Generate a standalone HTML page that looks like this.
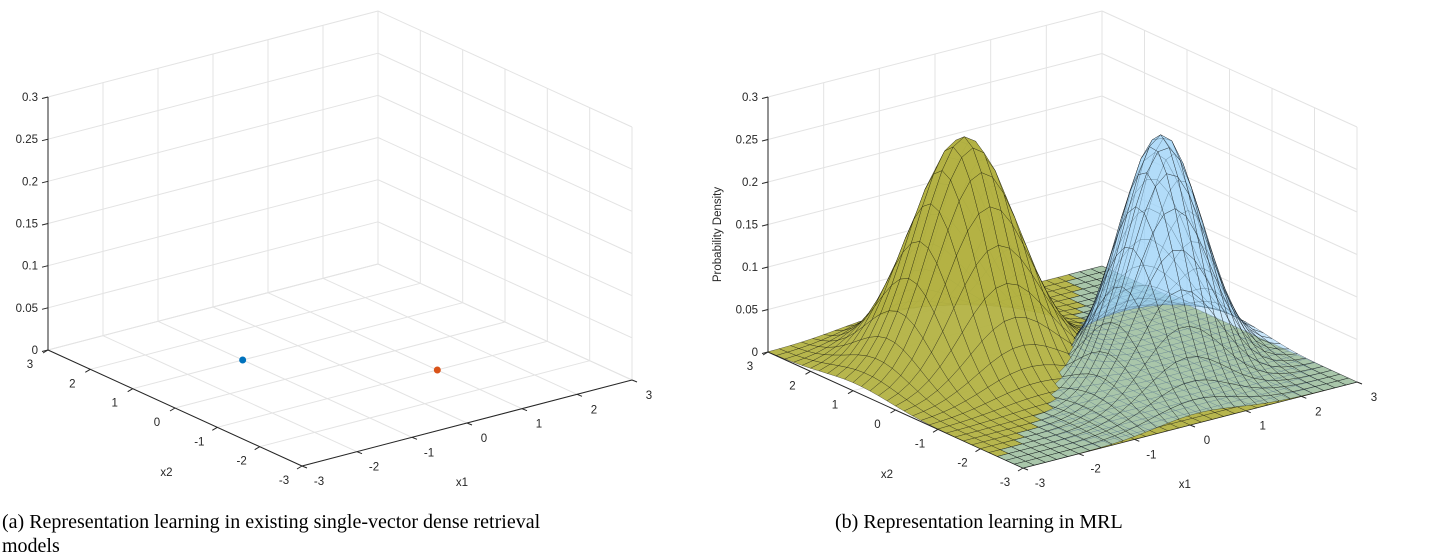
<!DOCTYPE html>
<html><head><meta charset="utf-8"><style>
body{margin:0;background:#fff;}
svg{display:block;}
.t{font-family:"Liberation Sans",Arial,sans-serif;font-size:11.5px;fill:#262626;}
.cap{font-family:"Liberation Serif",serif;font-size:20px;fill:#000;}
</style></head><body>
<svg id="fig" width="1431" height="558" viewBox="0 0 1431 558" xmlns="http://www.w3.org/2000/svg">
<g id="pa"></g>
<g id="pb"></g>
<text class="cap" x="2" y="528">(a)  Representation learning in existing single-vector dense retrieval</text>
<text class="cap" x="2" y="552">models</text>
<text class="cap" x="835" y="528">(b)  Representation learning in MRL</text>
</svg>
<script>
// data
const axTicks=[-3,-2,-1,0,1,2,3];
const zTicks=[0,0.05,0.1,0.15,0.2,0.25,0.3];
const zTickLabels=['0','0.05','0.1','0.15','0.2','0.25','0.3'];
const pointX1=[-1,1];
const pointX2=[1,-1];
const pointColors=['#0072bd','#d95319'];
const gaussMeanX1=[-1,1];
const gaussMeanX2=[1,-1];
const gaussSigmaU=[0.76,0.6];
const gaussSigmaV=[0.79,0.95];
const gaussColor=['#b3b243','#9fd3f8'];
const gaussAlpha=[0.95,0.55];

const NS='http://www.w3.org/2000/svg';
function mk(tag,attrs,parent){const e=document.createElementNS(NS,tag);for(const k in attrs)e.setAttribute(k,attrs[k]);parent.appendChild(e);return e;}

function makeAxes(g,F,L,R,zpx,showZLabel){
  const P=(x1,x2,z)=>[F[0]+(x1+3)/6*(R[0]-F[0])+(x2+3)/6*(L[0]-F[0]), F[1]+(x1+3)/6*(R[1]-F[1])+(x2+3)/6*(L[1]-F[1])-z/0.3*zpx];
  const grid='#e3e3e3';
  const ln=(a,b,c,w,name)=>{const e=mk('line',{x1:a[0].toFixed(1),y1:a[1].toFixed(1),x2:b[0].toFixed(1),y2:b[1].toFixed(1),stroke:c,'stroke-width':w},g);
    
    };
  axTicks.forEach(t=>{ln(P(t,-3,0),P(t,3,0),grid,1,'floor-grid-x1');ln(P(-3,t,0),P(3,t,0),grid,1,'floor-grid-x2');});
  axTicks.forEach(t=>{ln(P(t,3,0),P(t,3,0.3),grid,1,'wall-grid-x1');ln(P(3,t,0),P(3,t,0.3),grid,1,'wall-grid-x2');});
  zTicks.forEach(z=>{ln(P(-3,3,z),P(3,3,z),grid,1,'wall-grid-z');ln(P(3,3,z),P(3,-3,z),grid,1,'wall-grid-z');});
  ln(P(-3,-3,0),P(3,-3,0),'#262626',1,'x1-axis-line');
  ln(P(-3,-3,0),P(-3,3,0),'#262626',1,'x2-axis-line');
  ln(P(-3,3,0),P(-3,3,0.3),'#262626',1,'z-axis-line');
  zTicks.forEach((z,i)=>{const p=P(-3,3,z);ln(p,[p[0]-6,p[1]+1.5],'#262626',1,'z-tick');
    const t=mk('text',{x:p[0]-10,y:p[1]+4,'text-anchor':'end',class:'t'},g);t.textContent=zTickLabels[i];
    
    });
  axTicks.forEach(v=>{
    let p=P(-3,v,0);ln(p,[p[0]-5,p[1]+3],'#262626',1,'x2-tick');
    let t=mk('text',{x:p[0]-18,y:p[1]+18,'text-anchor':'middle',class:'t'},g);t.textContent=v;
    
    
    p=P(v,-3,0);ln(p,[p[0]+5,p[1]+2],'#262626',1,'x1-tick');
    t=mk('text',{x:p[0]+17,y:p[1]+19,'text-anchor':'middle',class:'t'},g);t.textContent=v;
    
    
  });
  let mid=P(-3,-0.2,0);let t=mk('text',{x:mid[0]-17,y:mid[1]+64,'text-anchor':'middle',class:'t'},g);t.textContent='x2';
  
  mid=P(-0.2,-3,0);t=mk('text',{x:mid[0]+6,y:mid[1]+60,'text-anchor':'middle',class:'t'},g);t.textContent='x1';
  
  if(showZLabel){const p=P(-3,3,0.15);t=mk('text',{x:0,y:0,'text-anchor':'middle',class:'t',transform:`translate(${p[0]-47},${p[1]+10}) rotate(-90)`},g);t.textContent='Probability Density';
    }
  return P;
}

// Panel a
const Pa=makeAxes(document.getElementById('pa'),[302,466],[48,350],[632,380],253,false);
pointX1.forEach((x,i)=>{const p=Pa(x,pointX2[i],0);
  const c=mk('circle',{cx:p[0],cy:p[1],r:3.5,fill:pointColors[i]},document.getElementById('pa'));
  
  });

// Panel b
const gb=document.getElementById('pb');
const Pb=makeAxes(gb,[1023,468],[768,352],[1357,382],255,true);
function dens(k,x1,x2){const d1=x1-gaussMeanX1[k],d2=x2-gaussMeanX2[k];const u=(d1-d2)/Math.SQRT2,v=(d1+d2)/Math.SQRT2;
  const su=gaussSigmaU[k],sv=gaussSigmaV[k];return Math.exp(-0.5*(u*u/(su*su)+v*v/(sv*sv)))/(2*Math.PI*su*sv);}
const N=30,polys=[];
for(let k=0;k<2;k++)for(let i=0;i<N;i++)for(let j=0;j<N;j++){
  const a=-3+6*i/N,b=-3+6*(i+1)/N,c=-3+6*j/N,d=-3+6*(j+1)/N;
  const pts=[[a,c],[b,c],[b,d],[a,d]].map(q=>[q[0],q[1],dens(k,q[0],q[1])]);
  let dep=0,zs=0,zo=0;pts.forEach(q=>{dep+=0.866*(0.61*q[0]+0.79*q[1])-10*q[2];zs+=q[2];zo+=dens(1-k,q[0],q[1]);});
  if(k===1 && zo>zs*1.5) continue; // hidden beneath the opaque surface
  polys.push({k,pts,dep:dep/4,zs});
}
polys.sort((p,q)=>{const d=q.dep-p.dep;if(Math.abs(d)>1e-9)return d;return p.zs-q.zs;});
polys.forEach(p=>{const s=p.pts.map(q=>Pb(q[0],q[1],q[2]).map(v=>v.toFixed(1)).join(',')).join(' ');
  const e=mk('polygon',{points:s,fill:gaussColor[p.k],'fill-opacity':gaussAlpha[p.k],stroke:'#000','stroke-opacity':0.55,'stroke-width':0.5},gb);
  
  });
</script>
</body></html>
